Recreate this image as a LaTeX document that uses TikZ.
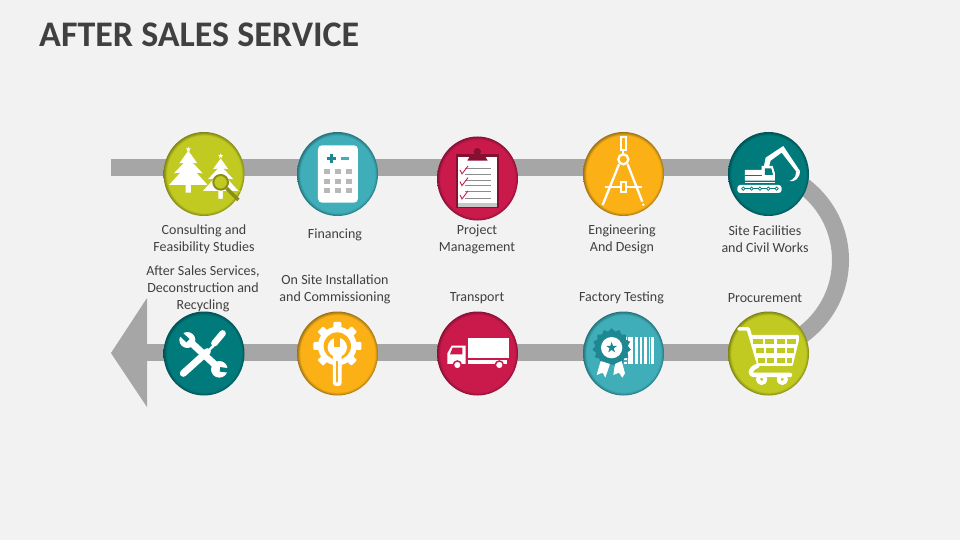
\documentclass[tikz,border=0pt]{standalone}
\usepackage{fontspec}
\setmainfont{Carlito}
\usepackage{tikz}
\usetikzlibrary{shapes.geometric}
\definecolor{pagegrey}{HTML}{F2F2F2}
\definecolor{bargrey}{HTML}{A6A6A6}
\definecolor{inkgrey}{HTML}{404040}
\definecolor{limefill}{HTML}{C0CA20}
\definecolor{limerim}{HTML}{7E8214}
\definecolor{limedeep}{HTML}{8A8E14}
\definecolor{aquafill}{HTML}{3FAEB9}
\definecolor{aquarim}{HTML}{24717A}
\definecolor{aquadeep}{HTML}{1F8791}
\definecolor{rosefill}{HTML}{CA1A4C}
\definecolor{roserim}{HTML}{861034}
\definecolor{rosedeep}{HTML}{85102F}
\definecolor{amberfill}{HTML}{FBB116}
\definecolor{amberrim}{HTML}{9C7012}
\definecolor{tealfill}{HTML}{007A7B}
\definecolor{tealrim}{HTML}{005054}
\pgfdeclareradialshading{limeball}{\pgfpointorigin}{color(0bp)=(limefill); color(23bp)=(limefill); color(25bp)=(limerim); color(50bp)=(limerim)}
\pgfdeclareradialshading{aquaball}{\pgfpointorigin}{color(0bp)=(aquafill); color(23bp)=(aquafill); color(25bp)=(aquarim); color(50bp)=(aquarim)}
\pgfdeclareradialshading{roseball}{\pgfpointorigin}{color(0bp)=(rosefill); color(23bp)=(rosefill); color(25bp)=(roserim); color(50bp)=(roserim)}
\pgfdeclareradialshading{amberball}{\pgfpointorigin}{color(0bp)=(amberfill); color(23bp)=(amberfill); color(25bp)=(amberrim); color(50bp)=(amberrim)}
\pgfdeclareradialshading{tealball}{\pgfpointorigin}{color(0bp)=(tealfill); color(23bp)=(tealfill); color(25bp)=(tealrim); color(50bp)=(tealrim)}
\pgfdeclarelayer{under}
\pgfsetlayers{under,main}
\tikzset{
  ball/.style={ellipse, shade, shading=#1, minimum width=81pt, minimum height=84pt, inner sep=0pt},
  band/.style={bargrey, line width=17pt},
  caption/.style={text=inkgrey, align=center, inner sep=0pt, font=\fontsize{14}{17}\selectfont},
  fivestar/.pic={\path[pic actions] (-90:1) -- (-54:.4) -- (-18:1) -- (18:.4) -- (54:1) -- (90:.4) -- (126:1) -- (162:.4) -- (198:1) -- (234:.4) -- cycle;},
  firtree/.pic={
    \path[fill=white, pic actions] (0,0) -- (27,38) -- (13,36) -- (43,68) -- (24,66) -- (58,103) -- (8,103) -- (8,126) -- (-8,126) -- (-8,103) -- (-58,103) -- (-24,66) -- (-43,68) -- (-13,36) -- (-27,38) -- cycle;
    \pic[fill=white, scale=2.7] at (0,-4) {fivestar};
  },
  topleft/.style={shift={(100,120)}, scale=0.3333},
  topright/.style={shift={(420,120)}, scale=0.3333},
  lowleft/.style={shift={(100,260)}, scale=0.3333},
  lowright/.style={shift={(420,260)}, scale=0.3333}
}
\begin{document}
\begin{tikzpicture}[x=1pt, y=-1pt]
\begin{pgfonlayer}{under}
\fill [pagegrey] (0,0) rectangle (960,540);
\end{pgfonlayer}
\useasboundingbox (0,0) rectangle (960,540);
\node [anchor=west, inner sep=0pt, text=inkgrey, font=\bfseries\fontsize{36}{40}\selectfont] (heading) at (39,35) {AFTER SALES SERVICE};
%
\coordinate (tail) at (111,167.5);
\coordinate (bendtop) at (748,167.5);
\coordinate (shaft) at (147,352.5);
\coordinate (tip) at (111,353);
\coordinate (barbup) at (147,298);
\coordinate (barbdown) at (147,407);
%
\node [ball=limeball] (consulting) at (204,174) {};
\node [ball=aquaball] (financing) at (337.5,174) {};
\node [ball=roseball] (project) at (477.5,178.5) {};
\node [ball=amberball] (engineering) at (623.5,174) {};
\node [ball=tealball] (site) at (768.5,174) {};
\node [ball=limeball] (procurement) at (768.5,353.5) {};
\node [ball=aquaball] (factory) at (623.5,353.5) {};
\node [ball=roseball] (transport) at (477.5,353.5) {};
\node [ball=amberball] (install) at (337.5,353.5) {};
\node [ball=tealball] (aftersales) at (204,353.5) {};
%
\begin{pgfonlayer}{under}
\fill [bargrey] (tip) -- (barbup) -- (barbdown) -- cycle;
\draw [band] (tail) -- (consulting.center |- tail);
\draw [band] (consulting.center |- tail) -- (financing.center |- tail);
\draw [band] (financing.center |- tail) -- (project.center |- tail);
\draw [band] (project.center |- tail) -- (engineering.center |- tail);
\draw [band] (engineering.center |- tail) -- (site.center |- tail);
\draw [band] (bendtop) arc (-90:90:92.5) -- (procurement.center |- shaft);
\draw [band] (procurement.center |- shaft) -- (factory.center |- shaft);
\draw [band] (factory.center |- shaft) -- (transport.center |- shaft);
\draw [band] (transport.center |- shaft) -- (install.center |- shaft);
\draw [band] (install.center |- shaft) -- (aftersales.center |- shaft);
\draw [band] (aftersales.center |- shaft) -- (shaft);
\end{pgfonlayer}
%
% trees and lens
\begin{scope}[topleft]
\pic [scale=0.3333] at (265,92) {firtree};
\pic [scale=0.3333, draw=limefill, line width=1pt] at (362,112) {firtree};
\draw [limedeep, line width=3.5pt] (380,205) -- (415,240);
\draw [limedeep, line width=2pt, fill=limefill] (362,187) circle (22);
\end{scope}
% calculator
\begin{scope}[topleft]
\fill [white, rounded corners=4pt] (654,76) rectangle (774,248);
\draw [aquadeep, line width=2.5pt] (680,115) -- (708,115) (694,101) -- (694,129);
\draw [aquafill, line width=2.5pt] (722,115) -- (747,115);
\foreach \x in {681,714,746} \foreach \y in {155,184,211}
  \fill [black!28] (\x-9,\y-7.5) rectangle (\x+9,\y+7.5);
\end{scope}
% clipboard
\begin{scope}[topright]
\fill [rosedeep] (108,103) rectangle (238,265);
\fill [white] (113,110) rectangle (232,250);
\fill [black!22] (113,250) rectangle (232,260);
\fill [rosedeep] (172,95) circle (11);
\fill [rosedeep] (150,108) -- (195,108) -- (203,122) -- (142,122) -- cycle;
\draw [black!45, line width=0.8pt] (135,145) -- (213,145) (135,162) -- (213,162) (135,182) -- (213,182) (135,197) -- (213,197) (135,236) -- (213,236);
\draw [black!45, line width=1.6pt] (135,215) -- (213,215);
\foreach \y in {0,35,75}
  \draw [rosefill, line width=0.9pt] (120,150+\y) -- (126,162+\y) -- (144,138+\y);
\end{scope}
% compass
\begin{scope}[topright, white, line width=2.3pt]
\draw [line width=1.8pt] (603,50) rectangle (618,90);
\draw (610,90) -- (610,103);
\draw (610,118) circle (15);
\draw (597,133) -- (548,255);
\draw (623,133) -- (667,245);
\fill (670,254) circle (4);
\draw (555,201) -- (665,201);
\draw [line width=1.8pt, fill=amberfill] (603,185) rectangle (618,217);
\end{scope}
% excavator
\begin{scope}[topright]
\fill [white, rounded corners=3pt] (952,195) rectangle (1085,219);
\draw [tealfill, line width=0.7pt] (970,206) -- (1072,206);
\foreach \x in {970,995,1020,1045,1070}
  \draw [tealfill, line width=0.7pt, fill=white] (\x,206) circle (5);
\fill [white] (975,150) -- (1025,150) -- (1025,138) -- (1058,138) -- (1065,160) -- (1065,182) -- (975,182) -- cycle;
\fill [tealfill] (1035,145) -- (1054,145) -- (1059,165) -- (1035,165) -- cycle;
\draw [tealfill, line width=0.8pt] (975,166) -- (1025,166);
\fill [white] (975,185) rectangle (1065,190);
\fill [white] (1032,138) -- (1037,113) -- (1090,78) -- (1140,153) -- (1130,156) -- (1085,98) -- (1052,122) -- (1048,138) -- cycle;
\fill [white] (1128,156) -- (1140,152) .. controls (1140,175) and (1125,187) .. (1108,183) .. controls (1122,178) and (1128,170) .. (1128,156) -- cycle;
\end{scope}
% tools
\begin{scope}[lowleft, line cap=round]
\draw [white, line width=7pt] (250,340) -- (322,275);
\draw [white, line width=2.5pt] (322,275) -- (340,258);
\draw [white, line width=6.5pt] (343,250) -- (368,220);
\draw [white, line width=7pt] (265,240) -- (360,328);
\fill [white] (262,240) circle (24) (358,328) circle (25);
\draw [tealfill, line width=4.5pt, line cap=butt] (264,242) -- (238,218);
\draw [tealfill, line width=4.5pt, line cap=butt] (360,328) -- (390,332);
\end{scope}
% gear and spanner
\begin{scope}[lowleft]
\foreach \a in {0,45,...,315}
  \fill [white, rounded corners=1pt, rotate around={\a:(712,258)}] (700,186) rectangle (724,210);
\fill [white] (712,258) circle (58);
\fill [amberfill] (712,258) circle (41);
\fill [white] (712,262) circle (29);
\fill [amberfill] (703,228) rectangle (721,262);
\fill [white, rounded corners=3pt] (699,280) rectangle (725,378);
\draw [amberfill, line width=2pt, line cap=round] (712,305) -- (712,365);
\end{scope}
% truck
\begin{scope}[lowright]
\fill [white] (143,234) rectangle (267,295);
\fill [white] (143,300) rectangle (262,312);
\fill [white] (95,257) -- (137,257) -- (137,312) -- (82,312) -- (82,280) -- cycle;
\fill [rosefill] (98,263) -- (127,263) -- (127,283) -- (90,283) -- cycle;
\draw [rosefill, line width=1.5pt, fill=white] (112,315) circle (12) (238,315) circle (12);
\end{scope}
% rosette and bars
\begin{scope}[lowright]
\foreach \a/\b in {625/640,646/655,660/665,671/681,686/690,694/702}
  \fill [white] (\a,230) rectangle (\b,312);
\draw [white, line width=2.5pt, dash pattern=on 3pt off 2pt] (617,230) -- (617,312);
\foreach \a in {0,24,...,336}
  \fill [aquadeep, rotate around={\a:(575,263)}] (563,217) -- (575,205) -- (587,217) -- cycle;
\fill [aquadeep] (575,263) circle (48);
\fill [white] (575,263) circle (32);
\pic [fill=aquadeep, scale=5.7] at (575,263) {fivestar};
\fill [white] (542,303) -- (530,345) -- (548,338) -- (556,353) -- (570,312) -- cycle;
\fill [white] (585,312) -- (580,345) -- (597,338) -- (607,353) -- (615,340) -- (605,303) -- cycle;
\end{scope}
% cart
\begin{scope}[lowright, line join=round]
\draw [white, line width=3.5pt, line cap=round] (957,207) -- (985,207) -- (1012,300);
\fill [white, rounded corners=1pt] (990,225) -- (1137,225) -- (1137,240) -- (1118,318) -- (1012,318) -- cycle;
\foreach \a/\b/\c in {1000/1030/237,1036/1062/237,1070/1095/237,1102/1128/237,1007/1032/265,1038/1062/265,1070/1095/265,1102/1122/265,1013/1034/293,1040/1062/293,1070/1095/293,1102/1116/293}
  \fill [limefill] (\a,\c) rectangle (\b,\c+15);
\draw [white, line width=4.5pt, line cap=round] (1012,318) .. controls (990,325) and (985,345) .. (1005,345) -- (1110,345);
\draw [white, line width=4pt, fill=limefill] (1025,358) circle (11) (1087,358) circle (11);
\end{scope}
%
\node [caption] (consultingtext) at (204,239) {Consulting and\\Feasibility Studies};
\node [caption] (financingtext) at (335,234.5) {Financing};
\node [caption] (projecttext) at (477,239) {Project\\Management};
\node [caption] (engineeringtext) at (622,239) {Engineering\\And Design};
\node [caption] (sitetext) at (765,239) {Site Facilities\\and Civil Works};
\node [caption] (aftersalestext) at (203,288.5) {After Sales Services,\\Deconstruction and\\Recycling};
\node [caption] (installtext) at (335,289) {On Site Installation\\and Commissioning};
\node [caption] (transporttext) at (477,298) {Transport};
\node [caption] (factorytext) at (621.5,298) {Factory Testing};
\node [caption] (procurementtext) at (765,298) {Procurement};
\end{tikzpicture}
\end{document}
